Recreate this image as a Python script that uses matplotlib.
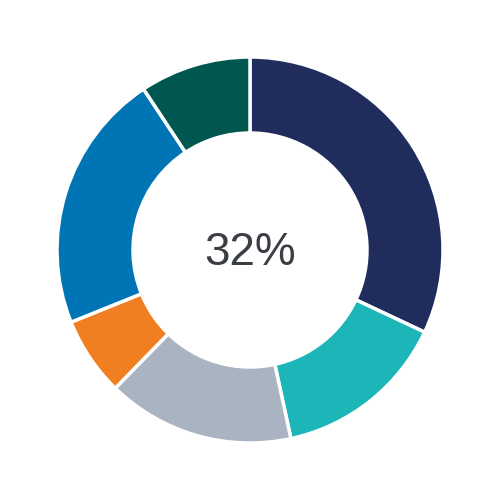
import matplotlib
matplotlib.use("Agg")
import matplotlib.pyplot as plt

labels = ["A", "B", "C", "D", "E", "F"]
values = [32, 14.6, 15.7, 6.6, 21.8, 9.3]
colors = ["#1f2c5c", "#1cb5b8", "#a9b3c1", "#f07f22", "#0075b5", "#00574f"]
center_text = "32%"

fig = plt.figure(figsize=(5, 5), dpi=100)
ax = fig.add_axes([0, 0, 1, 1])
R = 193 / 250
ax.pie(values, colors=colors, startangle=90, counterclock=False, radius=R,
       wedgeprops=dict(width=R * (1 - 117 / 193), edgecolor="white", linewidth=2.5))
ax.text(0, -0.012, center_text, ha="center", va="center", fontsize=33,
        family=["Liberation Sans", "DejaVu Sans"], color="#3b3f45")
ax.set_xlim(-1, 1)
ax.set_ylim(-1, 1)
ax.set_aspect("equal")
ax.axis("off")
fig.savefig("out.png", dpi=100, facecolor="white")
